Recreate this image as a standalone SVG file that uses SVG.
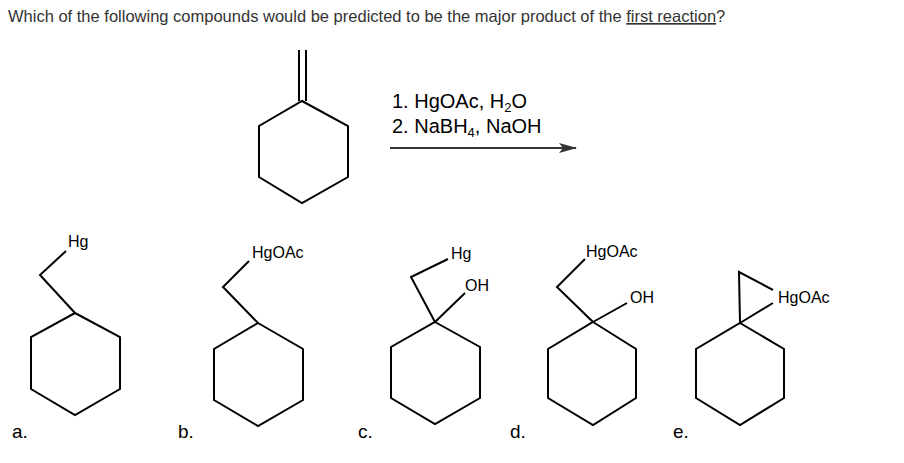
<svg xmlns="http://www.w3.org/2000/svg" width="904" height="463" viewBox="0 0 904 463">
<style>
.b{fill:none;stroke:#000;stroke-width:2;stroke-linejoin:miter}
.t{font-family:"Liberation Sans",Arial,sans-serif;fill:#000}
.s{font-size:16px}
.l{font-size:19px}
</style>
<defs><marker id="ah" markerWidth="18" markerHeight="10" refX="17" refY="5" orient="auto" markerUnits="userSpaceOnUse"><path d="M0,0 L18,5 L0,10 L4,5Z" fill="#333"/></marker></defs>
<rect width="904" height="463" fill="#fff"/>
<text class="t" x="8" y="22" font-size="16.5" style="fill:#333">Which of the following compounds would be predicted to be the major product of the <tspan text-decoration="underline">first reaction</tspan>?</text>
<g id="reactant">
<path class="b" d="M302,101 L348,126 L348,177 L302,203 L259,177 L259,126 Z"/>
<path class="b" d="M299,50 V101 M306,50 V101"/>
</g>
<g id="reagents">
<text class="t" x="392" y="108" font-size="20">1. HgOAc, H<tspan font-size="13" dy="4">2</tspan><tspan dy="-4">O</tspan></text>
<text class="t" x="392" y="133" font-size="20">2. NaBH<tspan font-size="13" dy="4">4</tspan><tspan dy="-4">, NaOH</tspan></text>
</g>
<g id="connectors"><line x1="390" y1="148" x2="576" y2="148" stroke="#333" stroke-width="2" marker-end="url(#ah)"/></g>
<g id="a">
<path class="b" d="M75,313 L120,337 L120,389 L75,415 L31,389 L31,337 Z M75,313 L40,275 L66,251"/>
<text class="t s" x="68" y="247">Hg</text>
<text class="t l" x="12" y="438">a.</text>
</g>
<g id="b">
<path class="b" d="M258,323 L303,349 L303,400 L258,426 L214,400 L214,349 Z M258,323 L223,287 L249,261"/>
<text class="t s" x="252" y="258">HgOAc</text>
<text class="t l" x="178" y="438">b.</text>
</g>
<g id="c">
<path class="b" d="M435,322 L480,347 L480,398 L435,424 L391,398 L391,347 Z M435,322 L411,277 L448,259 M435,322 L465,293"/>
<text class="t s" x="451" y="259">Hg</text>
<text class="t s" x="465" y="291">OH</text>
<text class="t l" x="358" y="438">c.</text>
</g>
<g id="d">
<path class="b" d="M593,322 L636,349 L636,398 L593,425 L548,398 L548,349 Z M593,322 L557,287 L585,259 M593,322 L627,303"/>
<text class="t s" x="586" y="257">HgOAc</text>
<text class="t s" x="630" y="303">OH</text>
<text class="t l" x="510" y="438">d.</text>
</g>
<g id="e">
<path class="b" d="M740,323 L784,349 L784,398 L740,425 L696,398 L696,349 Z M740,323 L739,272 L773,290 M740,323 L773,303"/>
<text class="t s" x="778" y="303">HgOAc</text>
<text class="t l" x="673" y="438">e.</text>
</g>
</svg>
